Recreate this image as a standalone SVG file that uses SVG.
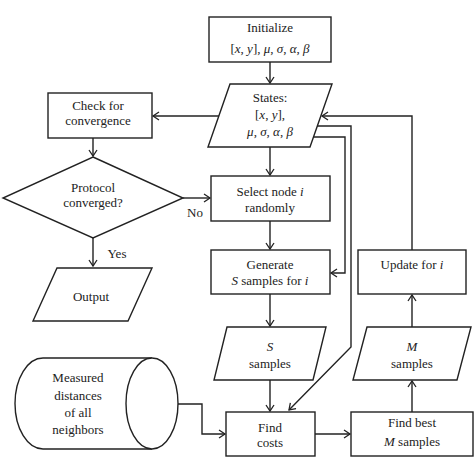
<svg xmlns="http://www.w3.org/2000/svg" width="474" height="474" viewBox="0 0 474 474">
<style>
.s{fill:#fff;stroke:#222;stroke-width:1.4}
.c{fill:none;stroke:#222;stroke-width:1.4}
text{font-family:"Liberation Serif","Times New Roman",serif;font-size:13px;fill:#222;text-anchor:middle}
.i{font-style:italic}
</style>
<defs>
<marker id="a" markerUnits="userSpaceOnUse" markerWidth="12" markerHeight="12" refX="7" refY="5" orient="auto">
<path d="M1,1 L7,5 L1,9" fill="none" stroke="#222" stroke-width="1.3"/>
</marker>
</defs>
<rect width="474" height="474" fill="#fff"/>
<g id="connectors" class="c">
<path d="M270,62 V83" marker-end="url(#a)"/>
<path d="M219,116 H153" marker-end="url(#a)"/>
<path d="M93,138 V156" marker-end="url(#a)"/>
<path d="M183,198 H210" marker-end="url(#a)"/>
<path d="M93,238 V266" marker-end="url(#a)"/>
<path d="M270,147 V175" marker-end="url(#a)"/>
<path d="M270,221 V249" marker-end="url(#a)"/>
<path d="M270,294 V326" marker-end="url(#a)"/>
<path d="M270,380 V411" marker-end="url(#a)"/>
<path d="M317,126 H351 V347 L289,410" marker-end="url(#a)"/>
<path d="M313.5,137 H345 V273 H331" marker-end="url(#a)"/>
<path d="M412,250 V116 H322" marker-end="url(#a)"/>
<path d="M178,404 H202 V434 H225" marker-end="url(#a)"/>
<path d="M315,434 H350" marker-end="url(#a)"/>
<path d="M412,412 V381" marker-end="url(#a)"/>
<path d="M412,327 V295" marker-end="url(#a)"/>
</g>
<text x="195" y="217">No</text>
<text x="117" y="258">Yes</text>
<g id="initialize">
<rect class="s" x="209" y="17" width="122" height="45"/>
<text x="270" y="32">Initialize</text>
<text x="270" y="53">[<tspan class="i">x</tspan>, <tspan class="i">y</tspan>], <tspan class="i">μ</tspan>, <tspan class="i">σ</tspan>, <tspan class="i">α</tspan>, <tspan class="i">β</tspan></text>
</g>
<g id="states">
<path class="s" d="M230,84 H332 L310,147 H208 Z"/>
<text x="270" y="102">States:</text>
<text x="270" y="119">[<tspan class="i">x</tspan>, <tspan class="i">y</tspan>],</text>
<text x="270" y="136"><tspan class="i">μ</tspan>, <tspan class="i">σ</tspan>, <tspan class="i">α</tspan>, <tspan class="i">β</tspan></text>
</g>
<g id="check">
<rect class="s" x="48" y="93" width="104" height="45"/>
<text x="98" y="110">Check for</text>
<text x="98" y="125">convergence</text>
</g>
<g id="converged">
<path class="s" d="M93,157 L183,198 L93,238 L3,198 Z"/>
<text x="93" y="192">Protocol</text>
<text x="93" y="207">converged?</text>
</g>
<g id="output">
<path class="s" d="M57,268 H152 L128,321 H33 Z"/>
<text x="91" y="301">Output</text>
</g>
<g id="select">
<rect class="s" x="211" y="176" width="119" height="45"/>
<text x="270" y="196">Select node <tspan class="i">i</tspan></text>
<text x="270" y="212">randomly</text>
</g>
<g id="generate">
<rect class="s" x="211" y="250" width="119" height="44"/>
<text x="270" y="269">Generate</text>
<text x="270" y="285"><tspan class="i">S</tspan> samples for <tspan class="i">i</tspan></text>
</g>
<g id="ssamples">
<path class="s" d="M227,327 H326 L313,380 H214 Z"/>
<text x="270" y="351" class="i">S</text>
<text x="270" y="368">samples</text>
</g>
<g id="findcosts">
<rect class="s" x="226" y="412" width="89" height="44"/>
<text x="270" y="432">Find</text>
<text x="270" y="447">costs</text>
</g>
<g id="measured">
<path class="s" d="M152,358 H43 A28,45.5 0 0 0 43,449 H152"/>
<ellipse class="s" cx="152" cy="403.5" rx="26" ry="45.5"/>
<text x="78" y="382">Measured</text>
<text x="78" y="400">distances</text>
<text x="78" y="417">of all</text>
<text x="78" y="434">neighbors</text>
</g>
<g id="findbest">
<rect class="s" x="351" y="412" width="122" height="44"/>
<text x="412" y="427">Find best</text>
<text x="412" y="446"><tspan class="i">M</tspan> samples</text>
</g>
<g id="msamples">
<path class="s" d="M367,327 H471 L457,380 H353 Z"/>
<text x="412" y="351" class="i">M</text>
<text x="412" y="368">samples</text>
</g>
<g id="update">
<rect class="s" x="358" y="250" width="108" height="44"/>
<text x="412" y="269">Update for <tspan class="i">i</tspan></text>
</g>
</svg>
